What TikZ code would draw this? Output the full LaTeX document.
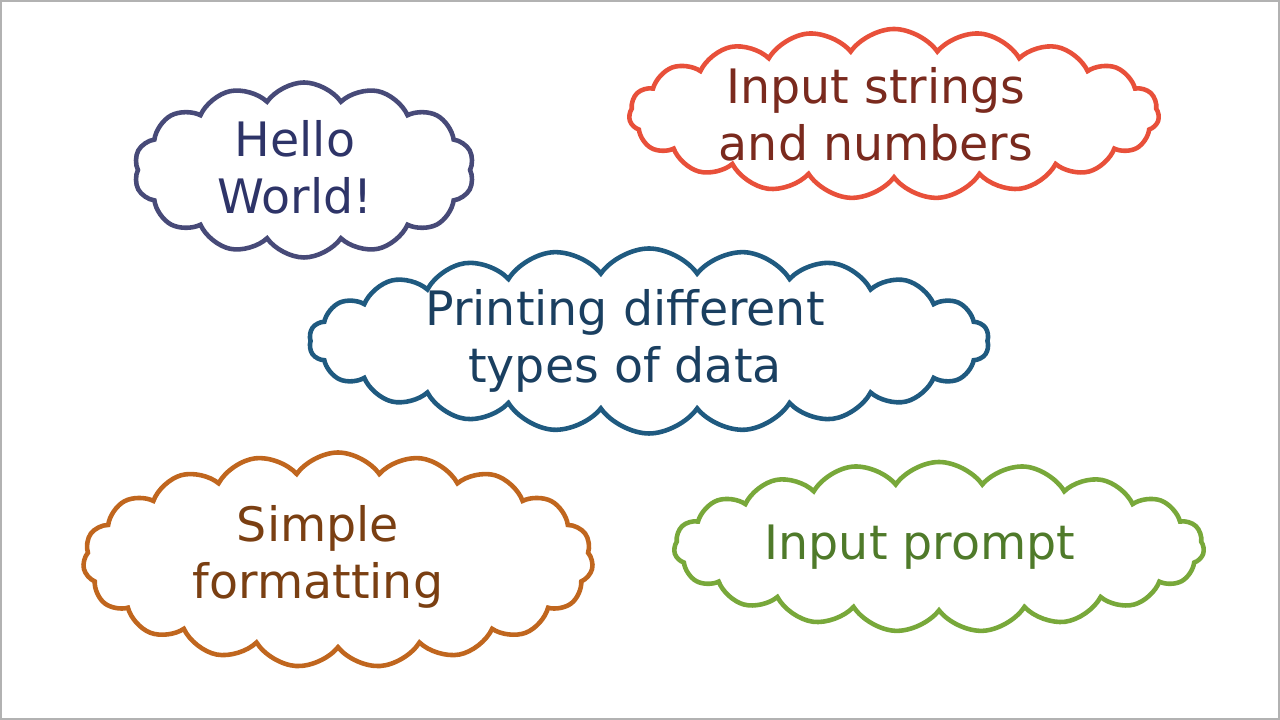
\documentclass[tikz,border=0pt]{standalone}
\usepackage{fontspec}
\setmainfont{DejaVu Sans}
\usetikzlibrary{shapes.symbols}
\definecolor{cA}{HTML}{474A78}\definecolor{tA}{HTML}{2E3468}
\definecolor{cB}{HTML}{E8503A}\definecolor{tB}{HTML}{7A2A1E}
\definecolor{cC}{HTML}{1F5A80}\definecolor{tC}{HTML}{1A3F60}
\definecolor{cD}{HTML}{C0661E}\definecolor{tD}{HTML}{7A3F12}
\definecolor{cE}{HTML}{78A83A}\definecolor{tE}{HTML}{4F7A2A}
\tikzset{cl/.style={cloud, cloud puffs=19, cloud puff arc=110, cloud ignores aspect, line width=1.3pt, inner sep=0pt},
  tx/.style={align=center, font=\fontsize{13.5}{16.3}\selectfont, inner sep=0pt}}
\begin{document}
\begin{tikzpicture}
\useasboundingbox (0,0) rectangle (12.8,7.2);
\draw[gray!60, line width=0.8pt] (0.01,0.01) rectangle (12.79,7.19);
\node[cl, draw=cA, minimum width=3.4cm, minimum height=1.75cm, cloud puffs=14] (hw) at (3.04,5.5) {};
\node[tx, text=tA] (hwt) at (2.95,5.53) {Hello\\World!};
\node[cl, draw=cB, minimum width=5.3cm, minimum height=1.7cm] (is) at (8.94,6.06) {};
\node[tx, text=tB] (ist) at (8.76,6.06) {Input strings\\and numbers};
\node[cl, draw=cC, minimum width=6.8cm, minimum height=1.85cm, cloud puffs=22] (pd) at (6.49,3.79) {};
\node[tx, text=tC] (pdt) at (6.25,3.79) {Printing different\\types of data};
\node[cl, draw=cD, minimum width=5.1cm, minimum height=2.15cm] (sf) at (3.38,1.6) {};
\node[tx, text=tD] (sft) at (3.18,1.63) {Simple\\formatting};
\node[cl, draw=cE, minimum width=5.3cm, minimum height=1.7cm] (ip) at (9.39,1.73) {};
\node[tx, text=tE] (ipt) at (9.2,1.73) {Input prompt};
\end{tikzpicture}
\end{document}
